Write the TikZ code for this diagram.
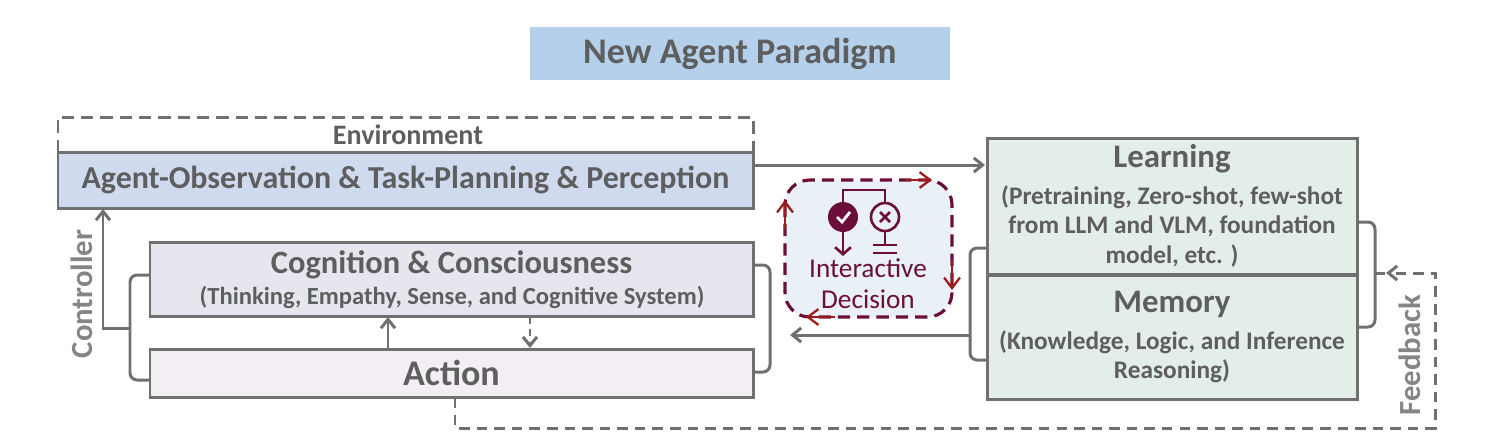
\documentclass[tikz,border=0pt]{standalone}
\usepackage{fontspec}
\setmainfont{Carlito}
\usetikzlibrary{arrows.meta}
\definecolor{tg}{HTML}{5E5E5E}
\definecolor{bd}{HTML}{707070}
\definecolor{dr}{HTML}{6B0F3A}
\definecolor{rr}{HTML}{9B1B1B}
\begin{document}
\begin{tikzpicture}[x=0.02cm,y=-0.02cm,
  box/.style={draw=bd,line width=1.7pt,inner sep=0pt},
  lnk/.style={draw=bd,line width=1.7pt},
  arr/.style={lnk,-{Straight Barb[length=5pt,width=8pt]}},
  txt/.style={text=tg,font=\bfseries}]
\useasboundingbox (0,0) rectangle (1491,441);
\node[fill={rgb,255:red,180;green,208;blue,234},minimum width=420*0.02cm,minimum height=53*0.02cm,txt,font=\bfseries\fontsize{20.5}{22}\selectfont] (title) at (740,53.5) {New Agent Paradigm};
% environment
\draw[lnk,dashed,dash pattern=on 7pt off 4pt] (58,152) -- (58,117) -- (753,117) -- (753,152);
\node[txt,font=\bfseries\fontsize{16}{18}\selectfont] (env) at (408,135) {Environment};
\node[box,fill={rgb,255:red,207;green,218;blue,238},minimum width=695*0.02cm,minimum height=56*0.02cm,txt,font=\bfseries\fontsize{18.2}{20}\selectfont] (obs) at (405.5,180) {Agent-Observation \& Task-Planning \& Perception};
\node[box,fill={rgb,255:red,230;green,230;blue,238},minimum width=603*0.02cm,minimum height=74*0.02cm] (cog) at (451.5,279) {};
\node[txt,font=\bfseries\fontsize{18.5}{20}\selectfont] (cogt) at (451.5,265) {Cognition \& Consciousness};
\node[txt,font=\bfseries\fontsize{14}{16}\selectfont] (cogs) at (452,297) {(Thinking, Empathy, Sense, and Cognitive System)};
\node[box,fill={rgb,255:red,243;green,238;blue,243},minimum width=603*0.02cm,minimum height=48*0.02cm,txt,font=\bfseries\fontsize{20.5}{22}\selectfont] (act) at (451.5,373) {Action};
\node[box,fill={rgb,255:red,227;green,238;blue,232},minimum width=370*0.02cm,minimum height=136*0.02cm,align=center,txt,font=\bfseries\fontsize{14.4}{16.8}\selectfont] (learn) at (1172,206) {\fontsize{18.7}{20}\selectfont Learning\\[4pt](Pretraining, Zero-shot, few-shot\\from LLM and VLM, foundation\\model, etc. )};
\node[box,fill={rgb,255:red,227;green,238;blue,232},minimum width=370*0.02cm,minimum height=124*0.02cm,align=center,txt,font=\bfseries\fontsize{14.4}{16.8}\selectfont] (mem) at (1172,337) {\fontsize{18.7}{20}\selectfont Memory\\[4pt](Knowledge, Logic, and Inference\\Reasoning)};
% arrow obs -> learning
\draw[arr] (753,165) -- (985,165);
% cog/action arrows
\draw[arr] (388,349) -- (388,317);
\draw[arr,dashed,dash pattern=on 4pt off 3pt] (530,317) -- (530,348);
% left brace + controller
\draw[lnk,rounded corners=4pt] (150,275) -- (130,275) -- (130,380) -- (150,380);
\coordinate (cc) at (130,328);
\draw[arr] (cc) -- (103,328) -- (103,209);
\node[txt,rotate=90,font=\bfseries\fontsize{17.5}{19}\selectfont,text=bd!85] (ctl) at (82,294) {Controller};
% right braces middle
\draw[lnk,rounded corners=4pt] (753,265) -- (770,265) -- (770,372) -- (753,372);
\draw[lnk,rounded corners=4pt] (987,248) -- (970,248) -- (970,360) -- (987,360);
\coordinate (mb) at (970,335);
\draw[arr] (mb) -- (790,335);
% right brace learning/memory
\draw[lnk,rounded corners=4pt] (1357,222) -- (1375,222) -- (1375,327) -- (1357,327);
\draw[lnk] (1375,273) -- (1385,273);
\draw[arr,dashed,dash pattern=on 6pt off 4pt] (455,397) -- (455,428) -- (1435,428) -- (1435,273) -- (1386,273);
\node[txt,rotate=90,font=\bfseries\fontsize{17.5}{19}\selectfont,text=bd!85] (fb) at (1410,355) {Feedback};
% interactive decision
\draw[dr,line width=1.8pt,dashed,dash pattern=on 7pt off 4pt,fill={rgb,255:red,234;green,240;blue,248},rounded corners=14pt] (785,180) rectangle (952,317);
\node[text=dr,align=center,font=\fontsize{15.5}{17.5}\selectfont] (dec) at (868,284) {Interactive\\Decision};
\fill[dr] (843,217) circle (15);
\draw[white,line width=1.6pt] (837,217) -- (842,222) -- (850,212);
\draw[dr,line width=1.5pt] (885,217) circle (14);
\draw[dr,line width=1.5pt] (880,212) -- (890,222) (880,222) -- (890,212);
\draw[dr,line width=1.5pt] (843,202) -- (843,190) -- (885,190) -- (885,203);
\draw[dr,line width=1.5pt,-{Straight Barb[length=4pt,width=9pt]}] (843,232) -- (843,256);
\draw[dr,line width=1.5pt] (885,231) -- (885,245) (873,245) -- (897,245) (873,253) -- (897,253);
% red arrows
\draw[rr,line width=1.3pt,-{Straight Barb[length=6pt,width=9pt]}] (905,180) -- (932,180);
\draw[rr,line width=1.3pt,-{Straight Barb[length=6pt,width=9pt]}] (785,230) -- (785,200);
\draw[rr,line width=1.3pt,-{Straight Barb[length=6pt,width=9pt]}] (952,260) -- (952,290);
\draw[rr,line width=1.3pt,-{Straight Barb[length=6pt,width=9pt]}] (835,317) -- (806,317);
\end{tikzpicture}
\end{document}
